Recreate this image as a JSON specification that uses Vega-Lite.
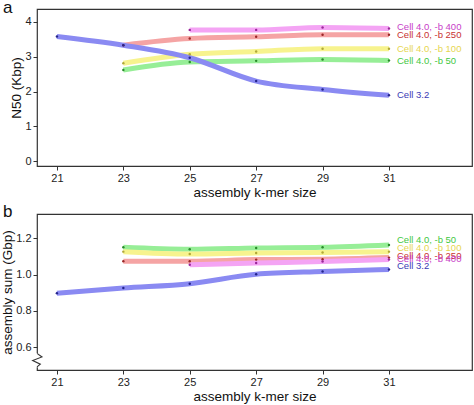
{
  "$schema": "https://vega.github.io/schema/vega-lite/v6.json",
  "padding": {"top": -2, "left": 0, "right": 0, "bottom": 0},
  "background": "white",
  "spacing": 2,
  "config": {
    "font": "Liberation Sans",
    "view": {"stroke": "#333", "strokeWidth": 1.2},
    "axis": {
      "grid": false,
      "domain": false,
      "labelFont": "Liberation Sans",
      "labelFontSize": 11,
      "labelColor": "#222",
      "labelPadding": 2,
      "titleFont": "Liberation Sans",
      "titleFontSize": 13.5,
      "titleFontWeight": "normal",
      "titleColor": "#111",
      "tickColor": "#333",
      "tickSize": 4,
      "labelOverlap": false
    }
  },
  "datasets": {
    "n50": [
      {"k": 23, "v": 2.62, "s": "Cell 4.0, -b 50"},
      {"k": 25, "v": 2.85, "s": "Cell 4.0, -b 50"},
      {"k": 27, "v": 2.88, "s": "Cell 4.0, -b 50"},
      {"k": 29, "v": 2.92, "s": "Cell 4.0, -b 50"},
      {"k": 31, "v": 2.89, "s": "Cell 4.0, -b 50"},
      {"k": 23, "v": 2.81, "s": "Cell 4.0, -b 100"},
      {"k": 25, "v": 3.07, "s": "Cell 4.0, -b 100"},
      {"k": 27, "v": 3.15, "s": "Cell 4.0, -b 100"},
      {"k": 29, "v": 3.23, "s": "Cell 4.0, -b 100"},
      {"k": 31, "v": 3.23, "s": "Cell 4.0, -b 100"},
      {"k": 23, "v": 3.33, "s": "Cell 4.0, -b 250"},
      {"k": 25, "v": 3.52, "s": "Cell 4.0, -b 250"},
      {"k": 27, "v": 3.57, "s": "Cell 4.0, -b 250"},
      {"k": 29, "v": 3.63, "s": "Cell 4.0, -b 250"},
      {"k": 31, "v": 3.63, "s": "Cell 4.0, -b 250"},
      {"k": 25, "v": 3.77, "s": "Cell 4.0, -b 400"},
      {"k": 27, "v": 3.77, "s": "Cell 4.0, -b 400"},
      {"k": 29, "v": 3.84, "s": "Cell 4.0, -b 400"},
      {"k": 31, "v": 3.81, "s": "Cell 4.0, -b 400"},
      {"k": 21, "v": 3.58, "s": "Cell 3.2"},
      {"k": 23, "v": 3.33, "s": "Cell 3.2"},
      {"k": 25, "v": 2.97, "s": "Cell 3.2"},
      {"k": 27, "v": 2.30, "s": "Cell 3.2"},
      {"k": 29, "v": 2.06, "s": "Cell 3.2"},
      {"k": 31, "v": 1.89, "s": "Cell 3.2"}
    ],
    "n50Labels": [
      {"s": "Cell 4.0, -b 400", "k": 31, "ly": 3.84},
      {"s": "Cell 4.0, -b 250", "k": 31, "ly": 3.61},
      {"s": "Cell 4.0, -b 100", "k": 31, "ly": 3.23},
      {"s": "Cell 4.0, -b 50", "k": 31, "ly": 2.89},
      {"s": "Cell 3.2", "k": 31, "ly": 1.89}
    ],
    "sum": [
      {"k": 23, "v": 1.151, "s": "Cell 4.0, -b 50"},
      {"k": 25, "v": 1.140, "s": "Cell 4.0, -b 50"},
      {"k": 27, "v": 1.147, "s": "Cell 4.0, -b 50"},
      {"k": 29, "v": 1.151, "s": "Cell 4.0, -b 50"},
      {"k": 31, "v": 1.164, "s": "Cell 4.0, -b 50"},
      {"k": 23, "v": 1.127, "s": "Cell 4.0, -b 100"},
      {"k": 25, "v": 1.114, "s": "Cell 4.0, -b 100"},
      {"k": 27, "v": 1.120, "s": "Cell 4.0, -b 100"},
      {"k": 29, "v": 1.122, "s": "Cell 4.0, -b 100"},
      {"k": 31, "v": 1.127, "s": "Cell 4.0, -b 100"},
      {"k": 23, "v": 1.074, "s": "Cell 4.0, -b 250"},
      {"k": 25, "v": 1.074, "s": "Cell 4.0, -b 250"},
      {"k": 27, "v": 1.083, "s": "Cell 4.0, -b 250"},
      {"k": 29, "v": 1.085, "s": "Cell 4.0, -b 250"},
      {"k": 31, "v": 1.094, "s": "Cell 4.0, -b 250"},
      {"k": 25, "v": 1.055, "s": "Cell 4.0, -b 400"},
      {"k": 27, "v": 1.064, "s": "Cell 4.0, -b 400"},
      {"k": 29, "v": 1.072, "s": "Cell 4.0, -b 400"},
      {"k": 31, "v": 1.083, "s": "Cell 4.0, -b 400"},
      {"k": 21, "v": 0.897, "s": "Cell 3.2"},
      {"k": 23, "v": 0.926, "s": "Cell 3.2"},
      {"k": 25, "v": 0.950, "s": "Cell 3.2"},
      {"k": 27, "v": 1.002, "s": "Cell 3.2"},
      {"k": 29, "v": 1.017, "s": "Cell 3.2"},
      {"k": 31, "v": 1.028, "s": "Cell 3.2"}
    ],
    "sumLabels": [
      {"s": "Cell 4.0, -b 50", "k": 31, "ly": 1.193},
      {"s": "Cell 4.0, -b 100", "k": 31, "ly": 1.146},
      {"s": "Cell 4.0, -b 250", "k": 31, "ly": 1.104},
      {"s": "Cell 4.0, -b 400", "k": 31, "ly": 1.084},
      {"s": "Cell 3.2", "k": 31, "ly": 1.045}
    ],
    "axisBreak": [
      {"k": 20.4, "v": 0.565, "o": 0},
      {"k": 20.55, "v": 0.545, "o": 1},
      {"k": 20.27, "v": 0.525, "o": 2},
      {"k": 20.5, "v": 0.505, "o": 3},
      {"k": 20.4, "v": 0.49, "o": 4}
    ],
    "gap": [
      {"k": 20.4, "v": 0.567, "v2": 0.488}
    ],
    "panelA": [{"tag": "a", "k": 19.52, "v": 4.39}],
    "panelB": [{"tag": "b", "k": 19.52, "v": 1.345}]
  },
  "vconcat": [
    {
      "width": 435,
      "height": 157,
      "encoding": {
        "x": {"field": "k", "type": "quantitative", "scale": {"domain": [20.4, 33.5], "nice": false, "zero": false},
              "axis": {"values": [21, 23, 25, 27, 29, 31], "title": "assembly k-mer size", "labelPadding": 2, "titlePadding": 2}},
        "y": {"field": "v", "type": "quantitative", "scale": {"domain": [-0.14, 4.37], "nice": false, "zero": false},
              "axis": {"values": [0, 1, 2, 3, 4], "title": "N50 (Kbp)", "titlePadding": 1}}
      },
      "layer": [
        {
          "data": {"name": "n50"},
          "mark": {"type": "line", "strokeWidth": 5, "interpolate": "monotone", "strokeCap": "butt"},
          "encoding": {
            "stroke": {"field": "s", "type": "nominal", "legend": null,
              "scale": {"domain": ["Cell 3.2", "Cell 4.0, -b 50", "Cell 4.0, -b 100", "Cell 4.0, -b 250", "Cell 4.0, -b 400"],
                        "range": ["#8a8af2", "#97ee97", "#f7f38e", "#f5a4a4", "#f4a4f4"]}}
          }
        },
        {
          "data": {"name": "n50"},
          "mark": {"type": "point", "filled": true, "size": 6, "opacity": 1},
          "encoding": {
            "fill": {"field": "s", "type": "nominal", "legend": null,
              "scale": {"domain": ["Cell 3.2", "Cell 4.0, -b 50", "Cell 4.0, -b 100", "Cell 4.0, -b 250", "Cell 4.0, -b 400"],
                        "range": ["#24248c", "#2a8a2a", "#b0a838", "#9a2626", "#9a269a"]}}
          }
        },
        {
          "data": {"name": "n50Labels"},
          "mark": {"type": "text", "align": "left", "baseline": "middle", "dx": 8, "fontSize": 9.5},
          "encoding": {
            "y": {"field": "ly", "type": "quantitative"},
            "text": {"field": "s"},
            "color": {"field": "s", "type": "nominal", "legend": null,
              "scale": {"domain": ["Cell 3.2", "Cell 4.0, -b 50", "Cell 4.0, -b 100", "Cell 4.0, -b 250", "Cell 4.0, -b 400"],
                        "range": ["#3a3ab4", "#3fc83f", "#e6d650", "#c83232", "#c840c8"]}}
          }
        },
        {
          "data": {"name": "panelA"},
          "mark": {"type": "text", "align": "center", "baseline": "middle", "fontSize": 17, "color": "#111"},
          "encoding": {
            "text": {"field": "tag"}
          }
        }
      ]
    },
    {
      "width": 435,
      "height": 156,
      "encoding": {
        "x": {"field": "k", "type": "quantitative", "scale": {"domain": [20.4, 33.5], "nice": false, "zero": false},
              "axis": {"values": [21, 23, 25, 27, 29, 31], "title": "assembly k-mer size", "labelPadding": 2, "titlePadding": 2}},
        "y": {"field": "v", "type": "quantitative", "scale": {"domain": [0.473, 1.335], "nice": false, "zero": false},
              "axis": {"values": [0.6, 0.8, 1.0, 1.2], "format": ".1f", "title": "assembly sum (Gbp)", "titlePadding": 1}}
      },
      "layer": [
        {
          "data": {"name": "sum"},
          "mark": {"type": "line", "strokeWidth": 5, "interpolate": "monotone", "strokeCap": "butt"},
          "encoding": {
            "stroke": {"field": "s", "type": "nominal", "legend": null,
              "scale": {"domain": ["Cell 3.2", "Cell 4.0, -b 50", "Cell 4.0, -b 100", "Cell 4.0, -b 250", "Cell 4.0, -b 400"],
                        "range": ["#8a8af2", "#97ee97", "#f7f38e", "#f5a4a4", "#f4a4f4"]}}
          }
        },
        {
          "data": {"name": "sum"},
          "mark": {"type": "point", "filled": true, "size": 6, "opacity": 1},
          "encoding": {
            "fill": {"field": "s", "type": "nominal", "legend": null,
              "scale": {"domain": ["Cell 3.2", "Cell 4.0, -b 50", "Cell 4.0, -b 100", "Cell 4.0, -b 250", "Cell 4.0, -b 400"],
                        "range": ["#24248c", "#2a8a2a", "#b0a838", "#9a2626", "#9a269a"]}}
          }
        },
        {
          "data": {"name": "sumLabels"},
          "mark": {"type": "text", "align": "left", "baseline": "middle", "dx": 8, "fontSize": 9.5},
          "encoding": {
            "y": {"field": "ly", "type": "quantitative"},
            "text": {"field": "s"},
            "color": {"field": "s", "type": "nominal", "legend": null,
              "scale": {"domain": ["Cell 3.2", "Cell 4.0, -b 50", "Cell 4.0, -b 100", "Cell 4.0, -b 250", "Cell 4.0, -b 400"],
                        "range": ["#3a3ab4", "#3fc83f", "#e6d650", "#c83232", "#c840c8"]}}
          }
        },
        {
          "data": {"name": "gap"},
          "mark": {"type": "rule", "color": "white", "strokeWidth": 4},
          "encoding": {
            "y2": {"field": "v2"}
          }
        },
        {
          "data": {"name": "axisBreak"},
          "mark": {"type": "line", "color": "#333", "strokeWidth": 1.1},
          "encoding": {
            "order": {"field": "o"}
          }
        },
        {
          "data": {"name": "panelB"},
          "mark": {"type": "text", "align": "center", "baseline": "middle", "fontSize": 17, "color": "#111"},
          "encoding": {
            "text": {"field": "tag"}
          }
        }
      ]
    }
  ]
}
